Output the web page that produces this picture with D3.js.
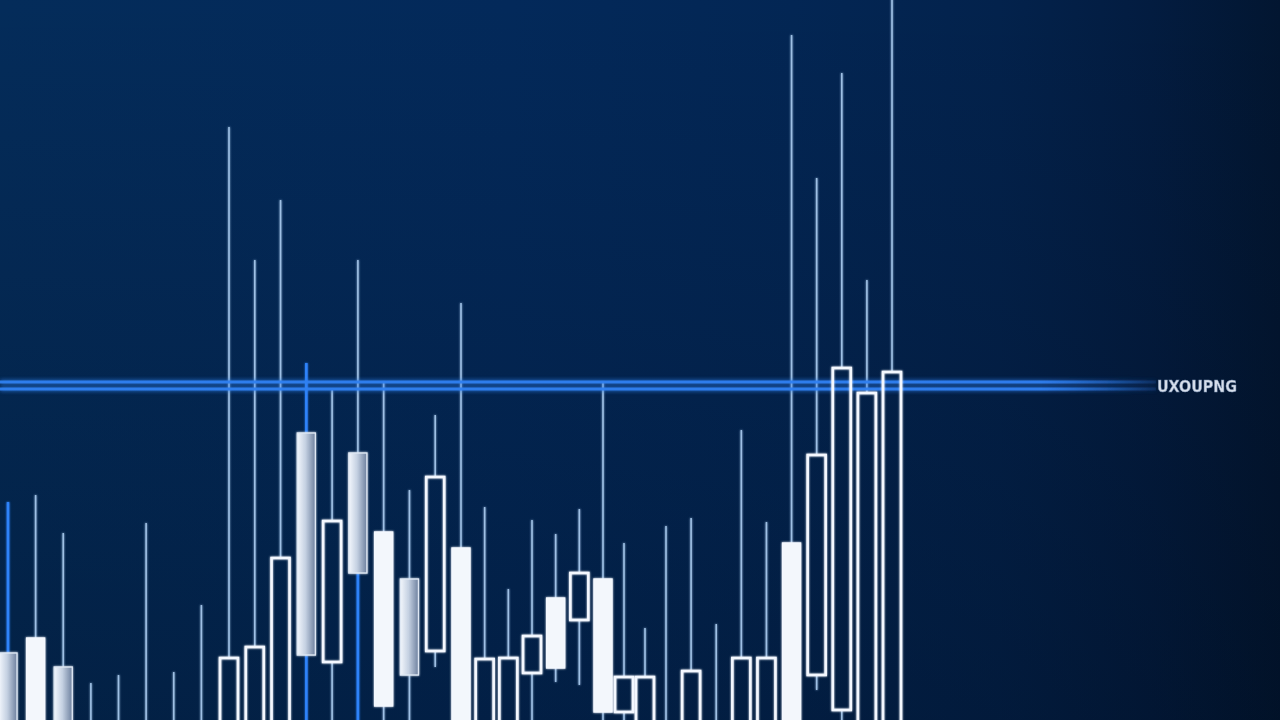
<!DOCTYPE html>
<html>
<head>
<meta charset="utf-8">
<script src="https://cdn.jsdelivr.net/npm/d3@7"></script>
<style>
html,body{margin:0;padding:0;background:#031a3a;overflow:hidden;}
svg{display:block;}
</style>
</head>
<body>
<svg id="chart" width="1280" height="720"></svg>
<script>
// ---- data (arbitrary price units) ----
const candleIndex = d3.range(36);
const highs  = [121.8,122.5,118.7,103.7,104.5,119.7,104.8,111.5,159.3,146.0,152.0,135.7,133.0,146.0,133.8,123.0,130.5,141.7,121.3,113.1,120.0,118.6,121.1,133.8,117.7,109.2,119.4,120.2,109.6,129.0,119.8,168.5,154.2,164.7,144.0,173.0];
const bodyTop = [106.7,108.2,105.3,97.5,97.5,97.5,97.5,97.5,106.2,107.3,116.2,128.7,119.9,126.7,118.8,114.1,124.3,117.2,106.1,106.2,108.4,112.2,114.7,114.1,104.3,104.3,97.5,104.9,97.5,106.2,106.2,117.7,126.5,135.2,132.7,134.8];
const bodyBottom = [97,97,97,97,97,97,97,97,97,97,97,106.5,105.8,114.7,101.4,104.5,106.9,97,97,97,104.7,105.2,110.0,100.8,100.8,97,97,97,97,97,97,97,104.5,101.0,97,97];
const lows = [96,96,96,96,96,96,96,96,96,96,96,96,96,96,98,96,105.3,96,96,96,96,103.8,103.5,96,96,96,96,96,96,96,96,96,103.0,99.0,96,96];
const bodyStyle = ["grad","fill","grad","none","none","none","none","none","hollow","hollow","hollow","grad","hollow","grad","fill","grad","hollow","fill","hollow","hollow","hollow","fill","hollow","fill","hollow","hollow","none","hollow","none","hollow","hollow","fill","hollow","hollow","hollow","hollow"];
const upperTone = ["blue","light","light","light","light","light","light","light","light","light","light","blue","light","light","light","light","light","light","light","light","light","light","light","light","light","light","light","light","light","light","light","light","light","light","light","light"];
const lowerTone = ["blue","light","light","light","light","light","light","light","light","light","light","blue","light","blue","light","light","light","light","light","light","light","light","light","light","light","light","light","light","light","light","light","light","light","light","light","light"];
const levelLines = [133.8, 133.1];
const levelLabel = "UXOUPNG";

// ---- setup ----
const W = 1280, H = 720;
const svg = d3.select("#chart");
const defs = svg.append("defs");

const bg = defs.append("linearGradient").attr("id","bg").attr("x1","0").attr("x2","1").attr("y1","0").attr("y2","0");
[["0%","#042c5a"],["40%","#03295a"],["62%","#032654"],["78%","#03224c"],["90%","#031c40"],["100%","#021631"]].forEach(s=>bg.append("stop").attr("offset",s[0]).attr("stop-color",s[1]));
const vshade = defs.append("linearGradient").attr("id","vshade").attr("x1","0").attr("x2","0").attr("y1","0").attr("y2","1");
vshade.append("stop").attr("offset","0%").attr("stop-color","#000814").attr("stop-opacity",0);
vshade.append("stop").attr("offset","100%").attr("stop-color","#000814").attr("stop-opacity",0.3);

const lineGrad = defs.append("linearGradient").attr("id","lineGrad").attr("x1","0").attr("x2","1").attr("y1","0").attr("y2","0").attr("gradientUnits","objectBoundingBox");
lineGrad.append("stop").attr("offset","0%").attr("stop-color","#2f80f0");
lineGrad.append("stop").attr("offset","90%").attr("stop-color","#2f7ff0");
lineGrad.append("stop").attr("offset","100%").attr("stop-color","#2f7ff0").attr("stop-opacity",0.15);

const bodyGrad = defs.append("linearGradient").attr("id","bodyGrad").attr("x1","0").attr("x2","1").attr("y1","0").attr("y2","0");
bodyGrad.append("stop").attr("offset","0%").attr("stop-color","#f2f6fc");
bodyGrad.append("stop").attr("offset","45%").attr("stop-color","#c5d1e2");
bodyGrad.append("stop").attr("offset","100%").attr("stop-color","#6e819f");

const glow = defs.append("filter").attr("id","glow").attr("x","-50%").attr("y","-50%").attr("width","200%").attr("height","200%");
glow.append("feGaussianBlur").attr("stdDeviation",2.2).attr("result","b");
const gm = glow.append("feMerge"); gm.append("feMergeNode").attr("in","b"); gm.append("feMergeNode").attr("in","SourceGraphic");
const softGlow = defs.append("filter").attr("id","softGlow").attr("x","-50%").attr("y","-20%").attr("width","200%").attr("height","140%");
softGlow.append("feGaussianBlur").attr("stdDeviation",1.2).attr("result","b");
const sm = softGlow.append("feMerge"); sm.append("feMergeNode").attr("in","b"); sm.append("feMergeNode").attr("in","SourceGraphic");

svg.append("rect").attr("width",W).attr("height",H).attr("fill","url(#bg)");
svg.append("rect").attr("width",W).attr("height",H).attr("fill","url(#vshade)");

// scales
const y = d3.scaleLinear().domain([100, 172]).range([H, 0]);
// slight perspective in candle spacing: piecewise-linear index scale
const x = d3.scaleLinear().domain([0, 8, 17, 23, 26, 35]).range([8, 229, 461, 603, 666, 892]);
const bodyW = 18;

const candles = candleIndex.map(i => ({
  i, high: highs[i], top: bodyTop[i], bottom: bodyBottom[i], low: lows[i],
  style: bodyStyle[i], up: upperTone[i], down: lowerTone[i]
}));
const toneColor = t => t === "blue" ? "#2f86ff" : "#a6c8ec";
const toneWidth = t => t === "blue" ? 2.6 : 1.6;

// wicks
const gW = svg.append("g").attr("filter","url(#softGlow)");
gW.selectAll("line.up").data(candles).join("line")
  .attr("x1", d=>x(d.i)).attr("x2", d=>x(d.i))
  .attr("y1", d=>y(d.high)).attr("y2", d=>y(d.style==="none" ? d.low : d.top))
  .attr("stroke", d=>toneColor(d.up)).attr("stroke-width", d=>toneWidth(d.up)).attr("opacity",0.92);
gW.selectAll("line.down").data(candles.filter(d=>d.style!=="none")).join("line")
  .attr("x1", d=>x(d.i)).attr("x2", d=>x(d.i))
  .attr("y1", d=>y(d.bottom)).attr("y2", d=>y(d.low))
  .attr("stroke", d=>toneColor(d.down)).attr("stroke-width", d=>toneWidth(d.down)).attr("opacity",0.92);

// level lines
const gL = svg.append("g").attr("filter","url(#glow)");
gL.selectAll("rect").data(levelLines).join("rect")
  .attr("x", 0).attr("width", 1156)
  .attr("y", d=>y(d)-1.5).attr("height", 3)
  .attr("fill","url(#lineGrad)").attr("opacity",0.95);

// bodies
const gB = svg.append("g").attr("filter","url(#softGlow)");
gB.selectAll("rect").data(candles.filter(d=>d.style!=="none")).join("rect")
  .attr("x", d=>x(d.i)-bodyW/2).attr("width", bodyW)
  .attr("y", d=>y(d.top)).attr("height", d=>y(d.bottom)-y(d.top))
  .attr("fill", d=> d.style==="fill" ? "#f3f7fc" : d.style==="grad" ? "url(#bodyGrad)" : "none")
  .attr("stroke", d=> d.style==="grad" ? "#dfe8f4" : "#f4f8ff")
  .attr("stroke-width", d=> d.style==="hollow" ? 2.6 : 1.4);

// label
svg.append("text")
  .attr("x", 1157).attr("y", y(d3.mean(levelLines)) + 6)
  .attr("font-family","DejaVu Sans Condensed, DejaVu Sans, sans-serif")
  .attr("font-weight","bold").attr("font-size",16)
  .attr("textLength",80).attr("lengthAdjust","spacingAndGlyphs")
  .attr("fill","#d6deea").attr("stroke","#7f93b3").attr("stroke-width",0.5)
  .text(levelLabel);
</script>
</body>
</html>
